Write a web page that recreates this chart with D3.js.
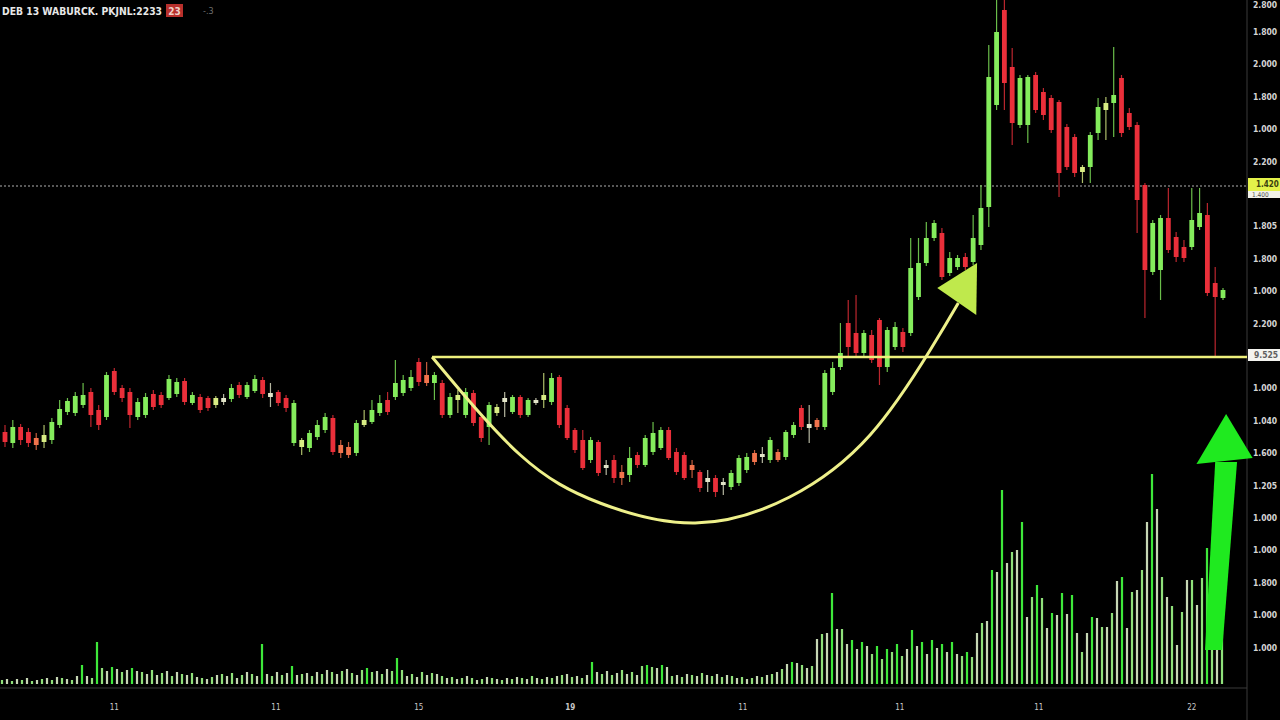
<!DOCTYPE html>
<html>
<head>
<meta charset="utf-8">
<script src="https://cdn.jsdelivr.net/npm/d3@7"></script>
<style>
  body { margin: 0; background: #000; overflow: hidden; }
  svg { display: block; }
</style>
</head>
<body>
<div id="chart"></div>
<script>
// candles as [open, high, low, close] in price points
var ohlc = [
  [288,295,273,278],[277,300,272,293],[293,296,275,280],[288,292,273,277],[282,287,270,275],
  [278,295,272,285],[280,302,276,298],[295,320,292,311],[308,322,305,319],[307,328,304,324],
  [315,337,312,325],[328,332,293,305],[310,315,290,295],[303,348,300,345],[349,352,325,328],
  [332,335,318,322],[328,332,292,305],[303,322,300,318],[305,327,302,323],[326,330,310,313],
  [325,328,312,315],[322,345,320,341],[326,342,323,338],[339,342,315,318],[317,328,315,325],
  [323,326,307,310],[322,324,309,312],[315,324,312,322],[318,326,315,322],[321,336,318,332],
  [335,338,322,325],[323,338,321,335],[329,345,327,341],[340,343,322,326],[323,337,313,327],
  [328,330,314,317],[322,325,308,312],[277,320,274,317],[273,282,265,280],[272,290,268,287],
  [283,300,280,295],[290,307,287,303],[302,305,265,268],[275,280,262,267],[273,278,262,265],
  [267,300,264,297],[295,310,293,300],[298,320,296,310],[307,325,304,317],[320,328,305,308],
  [323,360,320,337],[327,345,324,340],[332,350,329,343],[358,362,334,338],[345,358,334,337],
  [337,348,320,345],[337,340,302,305],[305,327,302,323],[320,330,307,325],[305,332,302,328],
  [327,330,294,297],[303,306,278,282],[293,318,275,315],[307,316,304,313],[318,328,303,322],
  [308,325,306,323],[323,325,302,305],[305,322,303,320],[317,322,315,320],[320,347,312,325],
  [318,347,315,342],[343,345,292,295],[312,315,280,282],[290,292,267,270],[280,290,250,252],
  [260,283,257,280],[278,280,244,247],[252,260,245,255],[260,265,237,242],[248,255,235,242],
  [245,273,238,262],[265,268,252,255],[255,285,253,282],[268,298,265,287],[272,293,270,290],
  [290,293,260,262],[268,272,245,248],[265,268,240,242],[255,260,242,250],[248,250,228,232],
  [242,250,228,238],[242,245,223,228],[235,242,225,238],[233,250,230,247],[237,265,234,262],
  [250,267,247,263],[267,270,255,258],[263,273,257,266],[260,283,257,280],[268,271,258,260],
  [263,290,260,288],[285,298,282,295],[312,315,290,293],[292,315,277,296],[300,302,290,293],
  [293,350,290,347],[328,358,325,352],[353,397,350,367],[397,420,363,373],[387,425,363,367],
  [367,390,363,387],[385,390,357,360],[400,402,335,353],[353,393,348,390],[373,398,370,393],
  [388,392,368,373],[387,482,384,452],[423,482,420,457],[457,498,454,482],[482,500,479,497],
  [487,492,440,443],[447,468,444,462],[453,465,450,462],[463,467,450,453],[458,505,455,482],
  [475,535,470,512],[513,675,493,643],[615,720,610,688],[710,725,610,637],[653,672,575,597],
  [595,645,592,642],[595,645,577,643],[645,648,607,610],[628,632,600,605],[622,625,587,590],
  [618,620,523,547],[593,596,550,553],[583,586,543,547],[548,555,537,553],[553,588,537,585],
  [587,622,580,613],[610,623,580,617],[617,673,583,625],[642,645,583,587],[607,612,590,593],
  [595,598,487,520],[535,537,402,450],[448,500,445,497],[450,505,420,502],[502,532,467,470],
  [483,488,458,463],[473,480,458,462],[473,532,470,500],[493,532,490,507],[505,517,424,427],
  [437,453,363,423],[422,432,420,430]
];

// volume bars (own, denser time grid)
var volume = [
  4,5,3,5,4,6,3,4,5,6,4,7,6,5,4,8,
  19,8,6,
  42,
  16,13,17,15,12,14,16,13,
  12,10,14,9,11,13,8,12,10,9,11,7,
  6,5,7,9,10,8,11,6,9,12,10,8,
  40,
  10,8,12,9,11,
  18,
  9,10,11,8,12,10,14,12,10,13,15,11,9,14,16,12,13,10,15,13,
  26,
  14,
  8,10,7,12,9,11,10,8,6,7,5,6,8,6,4,5,7,6,5,4,6,5,7,6,5,8,6,5,7,6,8,9,10,7,8,6,9,
  22,
  12,10,13,9,11,14,10,12,9,
  18,19,17,16,19,17,
  8,9,7,10,9,8,11,9,8,10,7,9,8,6,7,5,6,8,7,9,10,12,
  15,20,22,21,19,16,18,
  45,50,51,
  91,
  55,55,
  40,44,35,42,38,
  30,38,25,35,32,40,28,35,
  54,
  38,42,30,44,36,40,32,
  42,
  30,28,32,27,
  51,
  61,63,
  114,112,194,121,132,134,162,67,87,99,86,56,71,69,91,70,89,51,32,51,67,66,57,57,71,
  103,107,56,92,94,114,162,210,175,107,87,78,39,72,104,104,79,106,136,60,60,60
];

// right axis tick labels, top to bottom (null where a marker box sits)
var priceLabels = ["2.800","1.800","2.000","1.800","1.000","2.200",null,"1.805","1.800","1.000",
  "2.200",null,"1.000","1.040","1.600","1.205","1.000","1.000","1.800","1.000","1.000"];
var priceTop = 715;   // first label sits just under the top edge
var priceFirst = 688;
var priceStep = 32.4;

// bottom axis labels and the candle index they sit under
var timeLabels = ["11","11","15","19","11","11","11","22"];
var timeIndex = [14, 34.7, 53, 72.4, 94.5, 114.6, 132.4, 152];

// levels and annotations (candle index, price)
var resistance = 534;
var resistanceLabels = ["1.420","1.400"];
var neckline = 363;
var necklineLabel = "9.525";
var necklineStart = 54.7;
var cupPoints = [[54.7,363],[66,265],[76.2,217],[88.4,197],[100.5,223],[110.8,285],[118.5,370],[122.1,417]];
var cupHead = [[119.4,432],[124.5,457],[124.4,405]];
var bigShaft = [[153.7,70],[155.9,70],[157.8,258],[155.0,258]];
var bigHead = [[152.6,256],[156.4,306],[159.8,262]];

var titleText = "DEB 13 WABURCK. PKJNL:2233";
var titleBadge = "23";
var titleExtra = "-.3";

var width = 1280;
var height = 720;
var plotRight = 1247;
var plotBottom = 688;

var svg = d3.select("#chart")
  .append("svg")
  .attr("width", width)
  .attr("height", height)
  .style("background", "#000");

// scales
var x = d3.scaleLinear().domain([0, ohlc.length - 1]).range([5, 1223]);
var y = d3.scaleLinear().domain([0, 720]).range([720, 0]);
var xv = d3.scaleLinear().domain([0, volume.length - 1]).range([2, 1222]);
var yv = d3.scaleLinear().domain([0, 250]).range([684, 434]);

var bodyWidth = 4.8;
var axisFont = "DejaVu Sans Condensed, DejaVu Sans, sans-serif";

function candleColor(d) {
  var body = d[3] - d[0];
  if (Math.abs(body) <= 4) return "#e2e4c8";
  if (body > 0) return body < 8 ? "#d8ec84" : "#84ec5c";
  return body > -10 ? "#f2734c" : "#ea2f3a";
}

// frame lines
svg.append("line")
  .attr("x1", 0).attr("x2", plotRight)
  .attr("y1", plotBottom).attr("y2", plotBottom)
  .attr("stroke", "#3a3a3a").attr("stroke-width", 1);
svg.append("line")
  .attr("x1", plotRight).attr("x2", plotRight)
  .attr("y1", 0).attr("y2", height)
  .attr("stroke", "#3a3a3a").attr("stroke-width", 1);

// volume
svg.append("g").attr("class", "volume")
  .selectAll("rect")
  .data(volume)
  .enter()
  .append("rect")
  .attr("x", function(d, i) { return xv(i) - 1.1; })
  .attr("y", function(d) { return yv(d); })
  .attr("width", 2.2)
  .attr("height", function(d) { return yv(0) - yv(d); })
  .attr("fill", function(d, i) {
    var prev = i > 0 ? volume[i - 1] : 0;
    var next = i < volume.length - 1 ? volume[i + 1] : 0;
    if (d > prev && d > next && d > 15) return "#3ee83a";
    return i % 2 === 0 ? "#8fe07a" : "#c6d6b4";
  });

// resistance dotted line
svg.append("line")
  .attr("x1", 0).attr("x2", plotRight)
  .attr("y1", y(resistance)).attr("y2", y(resistance))
  .attr("stroke", "#b0b0b0")
  .attr("stroke-width", 1)
  .attr("stroke-dasharray", "2,2");

// candles
var candles = svg.append("g").attr("class", "candles")
  .selectAll("g")
  .data(ohlc)
  .enter()
  .append("g");

candles.append("line")
  .attr("x1", function(d, i) { return x(i); })
  .attr("x2", function(d, i) { return x(i); })
  .attr("y1", function(d) { return y(d[1]); })
  .attr("y2", function(d) { return y(d[2]); })
  .attr("stroke", candleColor)
  .attr("stroke-opacity", 0.8)
  .attr("stroke-width", 1.2);

candles.append("rect")
  .attr("x", function(d, i) { return x(i) - bodyWidth / 2; })
  .attr("y", function(d) { return y(Math.max(d[0], d[3])); })
  .attr("width", bodyWidth)
  .attr("height", function(d) { return Math.max(1.5, Math.abs(y(d[0]) - y(d[3]))); })
  .attr("fill", candleColor);

// neckline
svg.append("line")
  .attr("x1", x(necklineStart)).attr("x2", plotRight)
  .attr("y1", y(neckline)).attr("y2", y(neckline))
  .attr("stroke", "#eef07c")
  .attr("stroke-width", 2.6);

// cup curve
var cupLine = d3.line()
  .x(function(d) { return x(d[0]); })
  .y(function(d) { return y(d[1]); })
  .curve(d3.curveNatural);

svg.append("path")
  .attr("d", cupLine(cupPoints))
  .attr("fill", "none")
  .attr("stroke", "#eef08a")
  .attr("stroke-width", 3);

function polyPoints(pts) {
  return pts.map(function(p) { return x(p[0]) + "," + y(p[1]); }).join(" ");
}

svg.append("polygon")
  .attr("points", polyPoints(cupHead))
  .attr("fill", "#bfe94c");

// big green arrow
svg.append("polygon")
  .attr("points", polyPoints(bigShaft))
  .attr("fill", "#1fea1f");
svg.append("polygon")
  .attr("points", polyPoints(bigHead))
  .attr("fill", "#1fea1f");

// right axis labels
var axisGroup = svg.append("g").attr("class", "yText");
priceLabels.forEach(function(label, k) {
  if (label === null) return;
  var value = k === 0 ? priceTop : priceFirst - (k - 1) * priceStep;
  axisGroup.append("text")
    .attr("x", 1253)
    .attr("y", y(value))
    .attr("dy", "0.35em")
    .attr("fill", "#d4d4d4")
    .attr("font-family", axisFont)
    .attr("font-size", 8.5)
    .attr("font-weight", "bold")
    .text(label);
});

// resistance boxes
svg.append("rect")
  .attr("x", plotRight + 1).attr("y", y(resistance) - 8)
  .attr("width", width - plotRight).attr("height", 13)
  .attr("fill", "#e4f24a");
svg.append("text")
  .attr("x", 1256).attr("y", y(resistance) - 1.5)
  .attr("dy", "0.35em")
  .attr("fill", "#3a4010")
  .attr("font-family", axisFont)
  .attr("font-size", 8).attr("font-weight", "bold")
  .text(resistanceLabels[0]);
svg.append("rect")
  .attr("x", plotRight + 1).attr("y", y(resistance) + 5)
  .attr("width", width - plotRight).attr("height", 7)
  .attr("fill", "#f2f2ea");
svg.append("text")
  .attr("x", 1252).attr("y", y(resistance) + 8.5)
  .attr("dy", "0.35em")
  .attr("fill", "#505050")
  .attr("font-family", axisFont)
  .attr("font-size", 6.5)
  .text(resistanceLabels[1]);

// neckline box
svg.append("rect")
  .attr("x", plotRight + 1).attr("y", y(neckline) - 8)
  .attr("width", width - plotRight).attr("height", 12)
  .attr("fill", "#f4f4f0");
svg.append("text")
  .attr("x", 1254).attr("y", y(neckline) - 2)
  .attr("dy", "0.35em")
  .attr("fill", "#606060")
  .attr("font-family", axisFont)
  .attr("font-size", 8.5).attr("font-weight", "bold")
  .text(necklineLabel);

// bottom axis labels
svg.append("g").attr("class", "xText")
  .selectAll("text")
  .data(timeLabels)
  .enter()
  .append("text")
  .attr("x", function(d, i) { return x(timeIndex[i]); })
  .attr("y", 710)
  .attr("text-anchor", "middle")
  .attr("fill", "#c8c8c8")
  .attr("font-family", axisFont)
  .attr("font-size", 8)
  .attr("font-weight", function(d, i) { return i === 3 ? "bold" : "normal"; })
  .text(function(d) { return d; });

// title
svg.append("text")
  .attr("x", 2).attr("y", 15)
  .attr("fill", "#e8e8e8")
  .attr("font-family", axisFont)
  .attr("font-size", 10.5)
  .attr("font-weight", "bold")
  .attr("textLength", 160)
  .attr("lengthAdjust", "spacingAndGlyphs")
  .text(titleText);
svg.append("rect")
  .attr("x", 166).attr("y", 4)
  .attr("width", 17).attr("height", 13)
  .attr("fill", "#b8302c");
svg.append("text")
  .attr("x", 174.5).attr("y", 14.5)
  .attr("text-anchor", "middle")
  .attr("fill", "#f0d0c8")
  .attr("font-family", axisFont)
  .attr("font-size", 10).attr("font-weight", "bold")
  .text(titleBadge);
svg.append("text")
  .attr("x", 203).attr("y", 14)
  .attr("fill", "#707070")
  .attr("font-family", "DejaVu Sans, sans-serif")
  .attr("font-size", 8)
  .text(titleExtra);
</script>
</body>
</html>
